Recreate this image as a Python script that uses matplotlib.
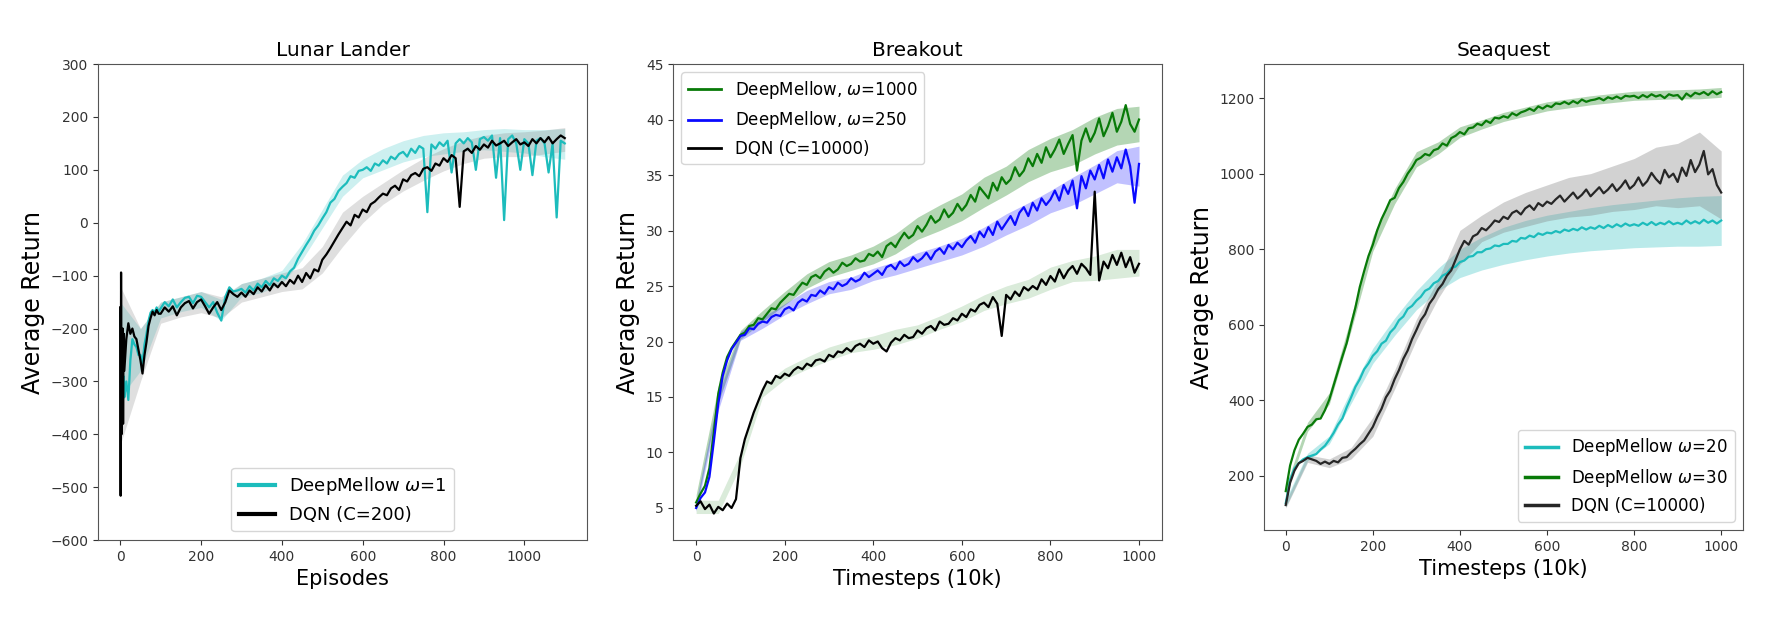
import numpy as np
import matplotlib
matplotlib.use("Agg")
import matplotlib.pyplot as plt

# ---------------- Lunar Lander ----------------
lunar_x = np.concatenate([np.arange(0, 10, 1), np.arange(10, 100, 5), np.arange(100, 1101, 10)])
lunar_dqn = [-160, -516, -94, -400, -250, -330, -200, -380, -240, -210,
             -280, -220, -190, -210, -200, -215, -220, -240, -260, -285, -250, -225, -195, -180, -168, -175, -165, -172,
             -172, -160, -168, -158, -175, -160, -152, -148, -162, -150,
             -145, -158, -172, -160, -150, -165, -150, -128, -135, -140,
             -132, -140, -128, -135, -122, -130, -118, -128, -115, -122,
             -112, -120, -108, -115, -100, -112, -95, -105, -88, -92,
             -70, -60, -48, -35, -22, -10, 2, -5, 15, 10,
             25, 20, 35, 40, 48, 55, 52, 65, 70, 62,
             82, 78, 90, 94, 88, 102, 105, 98, 112, 108,
             122, 115, 128, 122, 30, 135, 140, 132, 145, 138,
             148, 142, 155, 146, 150, 155, 145, 152, 158, 148,
             152, 145, 158, 150, 160, 152, 162, 150, 158, 165,
             160]
lunar_mellow = [-170, -200, -250, -230, -280, -300, -260, -310, -290, -320,
                -330, -300, -335, -260, -220, -230, -235, -250, -250, -265, -230, -210, -185, -170, -165, -170, -160, -168,
                -162, -150, -158, -145, -160, -150, -142, -140, -152, -138,
                -140, -150, -160, -150, -170, -185, -140, -122, -130, -128,
                -125, -132, -120, -128, -115, -122, -110, -118, -105, -110,
                -100, -105, -92, -85, -68, -55, -42, -30, -15, -5,
                8, 20, 38, 45, 60, 68, 75, 88, 85, 98,
                100, 105, 98, 112, 108, 118, 112, 125, 120, 130,
                134, 125, 140, 132, 145, 140, 20, 148, 140, 152,
                145, 155, 95, 150, 158, 150, 160, 152, 100, 158,
                162, 155, 165, 85, 160, 5, 158, 165, 150, 100,
                158, 150, 90, 155, 160, 150, 95, 150, 10, 155,
                150]
lunar_band_x = np.arange(0, 1101, 50)
lunar_dqn_lo = [-420, -300, -190, -178, -170, -180, -150, -140, -130, -125, -95, -45,
                0, 35, 60, 80, 98, 112, 122, 125, 125, 130, 135]
lunar_dqn_hi = [-120, -200, -150, -140, -130, -140, -115, -105, -95, -85, -45, 20,
                50, 75, 100, 122, 140, 155, 165, 170, 172, 175, 180]
lunar_mellow_lo = [-330, -280, -180, -168, -160, -185, -140, -132, -115, -70, -10, 50,
                   85, 100, 115, 125, 130, 135, 138, 135, 132, 125, 120]
lunar_mellow_hi = [-150, -200, -150, -140, -130, -145, -115, -105, -90, -40, 25, 90,
                   120, 140, 155, 165, 170, 172, 176, 178, 176, 176, 178]

# ---------------- Breakout ----------------
steps = np.arange(0, 1001, 10)
band_steps = np.arange(0, 1001, 50)
brk_dqn = [5.2, 5.6, 4.9, 5.3, 4.5, 5.1, 4.8, 5.4, 5.0, 5.8,
           9.5, 11.2, 12.4, 13.6, 14.6, 15.6, 16.4, 16.2, 16.9, 16.7,
           17.1, 16.9, 17.4, 17.7, 17.5, 18.0, 17.8, 18.3, 18.4, 18.2,
           18.8, 18.6, 19.1, 19.0, 19.4, 19.1, 19.6, 19.8, 19.5, 20.1,
           19.8, 20.0, 19.4, 19.1, 19.9, 20.3, 20.1, 20.6, 20.3, 20.4,
           21.0, 20.7, 21.2, 21.4, 21.0, 21.8, 21.5, 21.6, 22.1, 21.9,
           22.5, 22.2, 22.9, 22.7, 23.3, 23.5, 23.1, 24.0, 23.4, 20.5,
           24.2, 23.8, 24.5, 24.1, 24.9, 24.6, 25.0, 24.7, 25.6, 25.1,
           25.9, 25.4, 26.5, 25.7, 26.4, 26.8, 26.1, 27.0, 26.6, 26.0,
           33.5, 25.5, 27.2, 26.6, 27.8, 26.9, 28.0, 26.7, 27.6, 26.2,
           27.0]
brk_w1000 = [5.5, 6.3, 7.0, 8.6, 11.9, 15.3, 17.2, 18.6, 19.4, 20.0,
             20.6, 20.8, 21.4, 21.5, 22.1, 22.0, 22.5, 23.0, 22.9, 23.5,
             23.9, 24.3, 24.2, 24.8, 25.3, 25.1, 25.8, 26.0, 25.7, 26.3,
             26.6, 26.2, 26.5, 27.1, 26.8, 27.0, 27.5, 27.2, 27.3, 27.9,
             27.7, 28.1, 27.6, 28.6, 28.9, 28.5, 29.2, 29.8, 29.3, 29.6,
             30.4, 29.9, 30.5, 31.3, 30.7, 31.0, 31.9, 31.2, 31.6, 32.4,
             31.8, 32.3, 33.2, 32.6, 33.9, 33.4, 32.9, 34.3, 33.6, 34.8,
             34.2, 34.6, 35.7, 34.9, 35.4, 36.5, 35.8, 36.9, 36.1, 37.5,
             36.6, 37.3, 38.2, 36.9, 37.8, 38.6, 35.4, 38.1, 39.2, 38.0,
             38.8, 40.1, 38.5, 39.4, 40.6, 38.9, 39.8, 41.3, 39.6, 38.9,
             40.0]
brk_w250 = [5.0, 5.9, 6.4, 7.8, 11.0, 14.4, 16.9, 18.3, 19.3, 19.9,
            20.5, 20.6, 21.2, 21.1, 21.6, 21.8, 21.7, 22.2, 22.4, 22.3,
            22.9, 23.1, 22.8, 23.5, 23.8, 23.6, 24.2, 24.1, 24.6, 24.3,
            24.9, 24.7, 25.3, 25.0, 25.2, 25.7, 25.4, 25.6, 26.2, 25.8,
            26.1, 26.4, 26.0, 26.7, 26.9, 26.5, 27.2, 26.8, 27.0, 27.6,
            27.2, 27.5, 28.0, 27.4, 28.1, 28.4, 27.9, 28.7, 28.3, 28.9,
            28.5, 29.1, 29.5, 28.9, 29.9, 29.4, 30.3, 29.6, 30.8, 30.1,
            30.7, 31.3, 30.5, 31.6, 32.1, 31.3, 32.5, 31.8, 32.9, 32.3,
            32.8, 33.6, 32.7, 34.1, 33.3, 34.5, 32.0, 34.9, 33.8, 35.4,
            34.6, 35.9, 34.7, 36.4, 35.3, 36.6, 35.6, 37.3, 35.8, 32.5,
            36.0]
brk_w1000_lo = [5.0, 14.5, 20.2, 21.8, 23.3, 24.8, 25.8, 26.4, 27.0, 27.9, 29.2,
                30.0, 30.9, 32.1, 33.2, 34.4, 35.3, 35.9, 36.9, 37.7, 38.0]
brk_w1000_hi = [6.2, 16.0, 21.0, 22.8, 24.5, 26.1, 27.2, 27.8, 28.6, 29.7, 31.2,
                32.3, 33.3, 34.8, 35.8, 37.3, 38.3, 39.1, 40.2, 41.0, 41.2]
brk_w250_lo = [4.7, 13.8, 20.1, 21.2, 22.4, 23.4, 24.3, 24.7, 25.5, 26.0, 26.6,
               27.2, 27.8, 28.6, 29.6, 30.5, 31.6, 32.3, 33.3, 34.3, 34.0]
brk_w250_hi = [5.6, 15.2, 20.9, 22.2, 23.4, 24.6, 25.4, 25.8, 26.6, 27.2, 28.0,
               28.6, 29.3, 30.3, 31.5, 32.5, 33.6, 34.8, 35.9, 37.2, 37.6]
brk_dqn_lo = [4.5, 4.5, 8.8, 15.0, 16.6, 17.5, 18.3, 19.0, 19.3, 19.7, 20.3,
              21.1, 21.8, 22.8, 23.4, 23.9, 24.7, 25.4, 25.5, 25.7, 25.9]
brk_dqn_hi = [5.7, 5.7, 10.0, 16.0, 17.6, 18.6, 19.5, 20.1, 20.5, 21.1, 21.5,
              22.3, 23.2, 24.2, 25.0, 25.6, 26.7, 27.3, 27.7, 28.3, 28.3]

# ---------------- Seaquest ----------------
sq_w30 = [160, 228, 268, 296, 312, 330, 336, 350, 352, 374,
          402, 440, 478, 516, 552, 600, 646, 700, 742, 782,
          812, 850, 880, 904, 930, 936, 962, 978, 1000, 1016,
          1036, 1042, 1052, 1048, 1062, 1066, 1080, 1074, 1094, 1100,
          1110, 1104, 1120, 1122, 1132, 1128, 1140, 1134, 1148, 1146,
          1152, 1148, 1160, 1154, 1162, 1166, 1172, 1166, 1178, 1172,
          1180, 1176, 1186, 1184, 1190, 1184, 1192, 1186, 1196, 1190,
          1194, 1196, 1200, 1194, 1202, 1198, 1204, 1198, 1206, 1204,
          1206, 1200, 1208, 1202, 1210, 1204, 1208, 1200, 1210, 1206,
          1208, 1196, 1212, 1204, 1214, 1210, 1216, 1208, 1218, 1210,
          1216]
sq_w20 = [128, 190, 220, 234, 244, 250, 254, 258, 270, 280,
          296, 314, 336, 352, 382, 408, 436, 456, 482, 498,
          518, 530, 550, 558, 580, 592, 612, 622, 642, 650,
          664, 674, 690, 696, 710, 716, 730, 736, 750, 754,
          766, 770, 780, 782, 792, 792, 800, 802, 810, 808,
          814, 814, 822, 820, 830, 828, 836, 832, 842, 838,
          844, 842, 848, 844, 852, 848, 854, 850, 858, 852,
          858, 854, 862, 856, 864, 858, 866, 860, 868, 862,
          866, 862, 870, 864, 872, 864, 870, 866, 874, 866,
          870, 866, 876, 868, 874, 868, 878, 870, 876, 868,
          876]
sq_dqn = [123, 182, 214, 234, 240, 248, 244, 240, 232, 238,
          232, 240, 236, 248, 250, 262, 272, 284, 294, 312,
          330, 356, 378, 408, 426, 456, 480, 510, 532, 562,
          586, 612, 628, 656, 672, 694, 708, 730, 744, 772,
          800, 822, 812, 834, 840, 856, 850, 862, 876, 872,
          886, 880, 896, 902, 892, 908, 916, 904, 922, 914,
          926, 920, 932, 942, 926, 938, 950, 934, 944, 958,
          940, 952, 964, 948, 958, 972, 954, 966, 982, 960,
          970, 990, 968, 980, 1002, 986, 974, 1010, 990, 1000,
          978, 1016, 994, 1036, 1004, 1024, 1060, 998, 1012, 970,
          950]
sq_w30_lo = [150, 318, 390, 585, 795, 920, 1018, 1052, 1096, 1118, 1138,
             1152, 1166, 1174, 1182, 1188, 1194, 1196, 1198, 1198, 1202]
sq_w30_hi = [172, 342, 420, 620, 835, 960, 1058, 1084, 1124, 1142, 1162,
             1176, 1190, 1198, 1206, 1212, 1218, 1220, 1222, 1224, 1228]
sq_w20_lo = [118, 240, 285, 392, 498, 572, 640, 690, 725, 745, 760,
             772, 782, 790, 796, 800, 804, 806, 808, 808, 810]
sq_w20_hi = [138, 260, 306, 428, 538, 618, 690, 750, 800, 832, 858,
             876, 890, 900, 910, 918, 924, 930, 936, 940, 942]
sq_dqn_lo = [115, 236, 222, 245, 305, 430, 560, 670, 760, 820, 845,
             860, 875, 885, 890, 900, 905, 915, 910, 915, 880]
sq_dqn_hi = [132, 256, 245, 275, 355, 480, 615, 720, 850, 890, 925,
             950, 970, 990, 1000, 1020, 1040, 1070, 1080, 1110, 1060]

CYAN = '#1cbcbc'
GREEN = '#087a08'
BLUE = '#0a0aff'

fig = plt.figure(figsize=(17.76, 6.34), dpi=100)
ax1 = fig.add_axes([0.0552, 0.148, 0.2753, 0.751])
ax2 = fig.add_axes([0.379, 0.148, 0.2753, 0.751])
ax3 = fig.add_axes([0.7117, 0.164, 0.2697, 0.735])

# Lunar Lander
ax1.fill_between(lunar_band_x, lunar_mellow_lo, lunar_mellow_hi, color=CYAN, alpha=0.22, lw=0)
ax1.fill_between(lunar_band_x, lunar_dqn_lo, lunar_dqn_hi, color='gray', alpha=0.25, lw=0)
ax1.plot(lunar_x, lunar_mellow, color=CYAN, lw=1.6, label=r'DeepMellow $\omega$=1')
ax1.plot(lunar_x, lunar_dqn, color='k', lw=1.6, label='DQN (C=200)')
ax1.set_xlim(-55, 1155)
ax1.set_ylim(-600, 300)
ax1.set_yticks(np.arange(-600, 301, 100))
ax1.set_xticks(np.arange(0, 1001, 200))
ax1.set_title('Lunar Lander', fontsize=14.5)
ax1.set_xlabel('Episodes', fontsize=15)
ax1.set_ylabel('Average Return', fontsize=17)
leg = ax1.legend(loc='lower center', fontsize=13)
for l in leg.get_lines():
    l.set_linewidth(3)

# Breakout
ax2.fill_between(band_steps, brk_w1000_lo, brk_w1000_hi, color=GREEN, alpha=0.3, lw=0)
ax2.fill_between(band_steps, brk_w250_lo, brk_w250_hi, color=BLUE, alpha=0.25, lw=0)
ax2.fill_between(band_steps, brk_dqn_lo, brk_dqn_hi, color=GREEN, alpha=0.15, lw=0)
ax2.plot(steps, brk_w1000, color=GREEN, lw=1.6, label=r'DeepMellow, $\omega$=1000')
ax2.plot(steps, brk_w250, color=BLUE, lw=1.6, label=r'DeepMellow, $\omega$=250')
ax2.plot(steps, brk_dqn, color='k', lw=1.6, label='DQN (C=10000)')
ax2.set_xlim(-52, 1052)
ax2.set_ylim(2.1, 45)
ax2.set_yticks(np.arange(5, 46, 5))
ax2.set_xticks(np.arange(0, 1001, 200))
ax2.set_title('Breakout', fontsize=14.5)
ax2.set_xlabel('Timesteps (10k)', fontsize=15)
ax2.set_ylabel('Average Return', fontsize=17)
leg = ax2.legend(loc='upper left', fontsize=12)
for l in leg.get_lines():
    l.set_linewidth(2)

# Seaquest
ax3.fill_between(band_steps, sq_w20_lo, sq_w20_hi, color=CYAN, alpha=0.3, lw=0)
ax3.fill_between(band_steps, sq_w30_lo, sq_w30_hi, color=GREEN, alpha=0.3, lw=0)
ax3.fill_between(band_steps, sq_dqn_lo, sq_dqn_hi, color='gray', alpha=0.35, lw=0)
ax3.plot(steps, sq_w20, color=CYAN, lw=1.6, label=r'DeepMellow $\omega$=20')
ax3.plot(steps, sq_w30, color=GREEN, lw=1.6, label=r'DeepMellow $\omega$=30')
ax3.plot(steps, sq_dqn, color='#262626', lw=1.6, label='DQN (C=10000)')
ax3.set_xlim(-50, 1050)
ax3.set_ylim(57, 1290)
ax3.set_yticks(np.arange(200, 1201, 200))
ax3.set_xticks(np.arange(0, 1001, 200))
ax3.set_title('Seaquest', fontsize=14.5)
ax3.set_xlabel('Timesteps (10k)', fontsize=15)
ax3.set_ylabel('Average Return', fontsize=17)
leg = ax3.legend(loc='lower right', fontsize=12)
for l in leg.get_lines():
    l.set_linewidth(2.5)

for ax in (ax1, ax2, ax3):
    ax.tick_params(labelsize=10, colors='#333333')
    for s in ax.spines.values():
        s.set_color('#555555')

fig.savefig('out.png', dpi=100)
